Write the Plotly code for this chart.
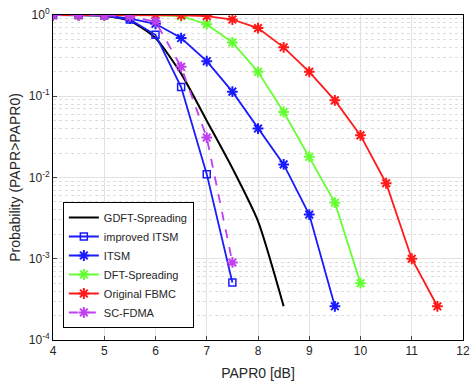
import plotly.graph_objects as go

gdft_x = [4, 4.5, 5, 5.5, 6, 6.5, 7, 7.5, 8, 8.5]
gdft_y = [1.0, 0.998, 0.975, 0.85, 0.52, 0.19, 0.05, 0.013, 0.0029, 0.00026]

iitsm_x = [4, 4.5, 5, 5.5, 6, 6.5, 7, 7.5]
iitsm_y = [1.0, 1.0, 0.99, 0.88, 0.57, 0.13, 0.011, 0.00051]

itsm_x = [4, 4.5, 5, 5.5, 6, 6.5, 7, 7.5, 8, 8.5, 9, 9.5]
itsm_y = [1.0, 1.0, 0.99, 0.9, 0.78, 0.52, 0.27, 0.114, 0.040, 0.0145, 0.0035, 0.00026]

dft_x = [4, 4.5, 5, 5.5, 6, 6.5, 7, 7.5, 8, 8.5, 9, 9.5, 10]
dft_y = [1.0, 1.0, 1.0, 1.0, 0.995, 0.97, 0.77, 0.46, 0.20, 0.064, 0.018, 0.0049, 0.0005]

fbmc_x = [4, 4.5, 5, 5.5, 6, 6.5, 7, 7.5, 8, 8.5, 9, 9.5, 10, 10.5, 11, 11.5]
fbmc_y = [1.0, 1.0, 1.0, 1.0, 1.0, 0.99, 0.97, 0.88, 0.69, 0.40, 0.20, 0.089, 0.033, 0.0085, 0.001, 0.00026]

scfdma_x = [4, 4.5, 5, 5.5, 6, 6.5, 7, 7.5]
scfdma_y = [1.0, 1.0, 0.995, 0.96, 0.83, 0.23, 0.031, 0.0009]

x_ticks = [4, 5, 6, 7, 8, 9, 10, 11, 12]
y_ticks = [1e-4, 1e-3, 1e-2, 1e-1, 1]
y_ticktext = ["10<sup>-4</sup>", "10<sup>-3</sup>", "10<sup>-2</sup>", "10<sup>-1</sup>", "10<sup>0</sup>"]

BLUE = "#1a1aff"
GREEN = "#66ff33"
RED = "#ff1a1a"
PURPLE = "#c040f0"

fig = go.Figure()
fig.add_trace(go.Scatter(x=gdft_x, y=gdft_y, mode="lines", name="GDFT-Spreading",
                         line=dict(color="black", width=2, shape="spline", smoothing=0.6)))
fig.add_trace(go.Scatter(x=iitsm_x, y=iitsm_y, mode="lines+markers", name="improved ITSM",
                         line=dict(color=BLUE, width=1.8),
                         marker=dict(symbol="square-open", size=7, color=BLUE, line=dict(width=1.5))))
fig.add_trace(go.Scatter(x=itsm_x, y=itsm_y, mode="lines+markers", name="ITSM",
                         line=dict(color=BLUE, width=1.8),
                         marker=dict(symbol="asterisk-open", size=9, color=BLUE, line=dict(width=2, color=BLUE))))
fig.add_trace(go.Scatter(x=dft_x, y=dft_y, mode="lines+markers", name="DFT-Spreading",
                         line=dict(color=GREEN, width=1.8),
                         marker=dict(symbol="asterisk-open", size=9, color=GREEN, line=dict(width=2, color=GREEN))))
fig.add_trace(go.Scatter(x=fbmc_x, y=fbmc_y, mode="lines+markers", name="Original FBMC",
                         line=dict(color=RED, width=1.8),
                         marker=dict(symbol="asterisk-open", size=9, color=RED, line=dict(width=2, color=RED))))
fig.add_trace(go.Scatter(x=scfdma_x, y=scfdma_y, mode="lines+markers", name="SC-FDMA",
                         line=dict(color=PURPLE, width=1.8, dash="dash"),
                         marker=dict(symbol="asterisk-open", size=9, color=PURPLE, line=dict(width=2, color=PURPLE))))

fig.update_layout(
    width=474, height=382,
    margin=dict(l=53, r=11, t=15, b=42),
    paper_bgcolor="white", plot_bgcolor="white",
    font=dict(family="Liberation Sans, Arial", size=12, color="#262626"),
    showlegend=True,
    legend=dict(x=0.024, y=0.037, xanchor="left", yanchor="bottom",
                bgcolor="white", bordercolor="black", borderwidth=1,
                font=dict(size=11, color="#262626"), tracegroupgap=0,
                itemwidth=30),
)
fig.update_xaxes(range=[4, 12], tickvals=x_ticks, ticks="inside", ticklen=4,
                 showline=True, linecolor="black", linewidth=1, mirror=True,
                 showgrid=True, gridcolor="#e2e2e2", gridwidth=1, zeroline=False,
                 automargin=False,
                 title=dict(text="PAPR0 [dB]", standoff=10), tickfont=dict(size=12))
fig.update_yaxes(type="log", range=[-4, 0], tickvals=y_ticks, ticktext=y_ticktext,
                 ticks="inside", ticklen=4, automargin=False,
                 showline=True, linecolor="black", linewidth=1, mirror=True,
                 showgrid=True, gridcolor="#e2e2e2", gridwidth=1, zeroline=False,
                 minor=dict(showgrid=True, gridcolor="#dddddd", griddash="dot", dtick="D1", ticks=""),
                 title=dict(text="Probability (PAPR>PAPR0)", standoff=4), tickfont=dict(size=12))

fig.write_html("out.html", config={"displayModeBar": False},
               post_script="document.body.style.margin='0px';")
